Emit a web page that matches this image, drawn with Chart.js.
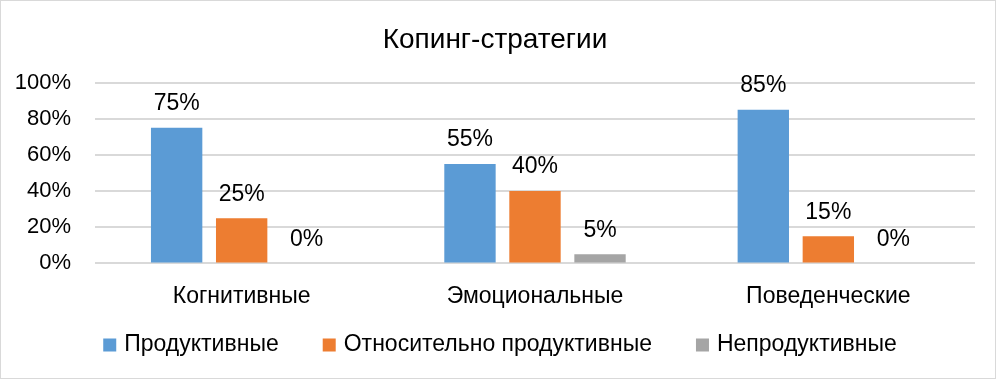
<!DOCTYPE html>
<html>
<head>
<meta charset="utf-8">
<script src="https://cdn.jsdelivr.net/npm/chart.js@4"></script>
<style>
  html, body { margin: 0; padding: 0; background: #fff; }
  #wrap { width: 996px; height: 379px; box-sizing: border-box; border: 1px solid #d9d9d9; position: relative; }
  canvas { display: block; }
</style>
</head>
<body>
<div id="wrap"><canvas id="chart"></canvas></div>
<script>
// категории и значения (%)
const categories = ['Когнитивные', 'Эмоциональные', 'Поведенческие'];
const productive = [75, 55, 85];
const relProductive = [25, 40, 15];
const unproductive = [0, 5, 0];
const seriesNames = ['Продуктивные', 'Относительно продуктивные', 'Непродуктивные'];
const seriesColors = ['#5B9BD5', '#ED7D31', '#A5A5A5'];
const yTicks = [0, 20, 40, 60, 80, 100];

const FONT = "'Liberation Sans', Arial, sans-serif";

// подписи над столбиками
const barLabels = {
    id: 'barLabels',
    afterDatasetsDraw(chart) {
        const ctx = chart.ctx;
        ctx.save();
        ctx.font = '23px ' + FONT;
        ctx.fillStyle = '#000';
        ctx.textAlign = 'center';
        ctx.textBaseline = 'middle';
        chart.data.datasets.forEach((ds, i) => {
            chart.getDatasetMeta(i).data.forEach((bar, j) => {
                ctx.fillText(ds.data[j] + '%', bar.x, bar.y - 24);
            });
        });
        ctx.restore();
    }
};

// легенда внизу (как в Excel - широкие промежутки)
const bottomLegend = {
    id: 'bottomLegend',
    afterDraw(chart) {
        const ctx = chart.ctx;
        const box = 13, gapText = 8, gapItem = 44, y = 344;
        ctx.save();
        ctx.font = '23px ' + FONT;
        ctx.textBaseline = 'middle';
        ctx.textAlign = 'left';
        const items = chart.data.datasets.map(ds => ({ text: ds.label, color: ds.backgroundColor, w: ctx.measureText(ds.label).width }));
        let total = items.reduce((s, it) => s + box + gapText + it.w, 0) + gapItem * (items.length - 1);
        let x = (chart.width - total) / 2 + 2;
        items.forEach(it => {
            ctx.fillStyle = it.color;
            ctx.fillRect(x, y - box / 2, box, box);
            x += box + gapText;
            ctx.fillStyle = '#000';
            ctx.fillText(it.text, x, y);
            x += it.w + gapItem;
        });
        ctx.restore();
    }
};

new Chart(document.getElementById('chart'), {
    type: 'bar',
    data: {
        labels: categories,
        datasets: seriesNames.map((name, i) => ({
            label: name,
            data: [productive, relProductive, unproductive][i],
            backgroundColor: seriesColors[i]
        }))
    },
    options: {
        responsive: true,
        maintainAspectRatio: false,
        animation: false,
        categoryPercentage: 0.665,
        barPercentage: 0.79,
        layout: { padding: { left: 14, right: 20, top: 10, bottom: 57 } },
        scales: {
            x: {
                grid: { display: false },
                border: { display: false },
                ticks: { color: '#000', font: { family: FONT, size: 23 }, padding: 11 }
            },
            y: {
                min: 0,
                max: 100,
                afterBuildTicks: (axis) => { axis.ticks = yTicks.map(v => ({ value: v })); },
                afterFit: (axis) => { axis.width = 80; },
                grid: { color: '#d9d9d9', lineWidth: 2, drawTicks: false },
                border: { display: false },
                ticks: { color: '#000', font: { family: FONT, size: 22 }, padding: 24, callback: v => v + '%' }
            }
        },
        plugins: {
            title: {
                display: true,
                text: 'Копинг-стратегии',
                color: '#000',
                font: { family: FONT, size: 28, weight: 'normal' },
                padding: { top: 12, bottom: 26 }
            },
            legend: { display: false },
            tooltip: { enabled: false }
        }
    },
    plugins: [barLabels, bottomLegend]
});
</script>
</body>
</html>
